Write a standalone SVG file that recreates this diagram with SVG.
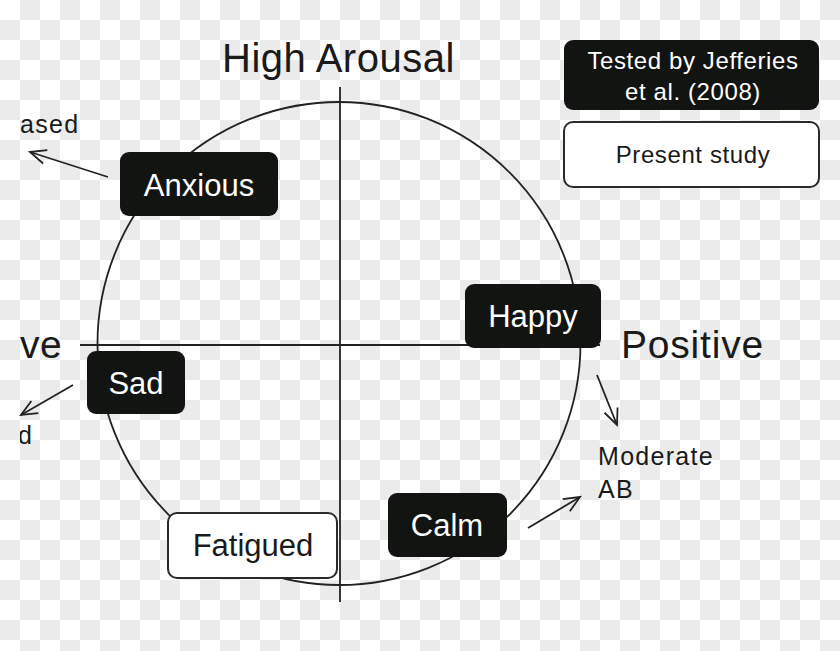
<svg xmlns="http://www.w3.org/2000/svg" width="840" height="651" viewBox="0 0 840 651">
<defs>
<pattern id="chk" x="0" y="0" width="40" height="40" patternUnits="userSpaceOnUse">
<rect width="40" height="40" fill="#ffffff"/>
<rect x="20" y="0" width="20" height="20" fill="#ebebeb"/>
<rect x="0" y="20" width="20" height="20" fill="#ebebeb"/>
</pattern>
<marker id="arr" markerWidth="20" markerHeight="20" refX="17" refY="10" orient="auto" markerUnits="userSpaceOnUse">
<path d="M1,3 L17,10 L1,17" fill="none" stroke="#222" stroke-width="1.8"/>
</marker>
<clipPath id="clipL"><rect x="20" y="0" width="820" height="651"/></clipPath>
</defs>
<style>
text{font-family:"Liberation Sans",Arial,sans-serif;}
.dark rect{fill:#121412;}
.dark text{fill:#ffffff;font-size:31px;text-anchor:middle;}
.light rect{fill:#ffffff;stroke:#2a2a2a;stroke-width:2;}
.light text{fill:#1a1a1a;font-size:31px;text-anchor:middle;}
.leg text{font-size:24px;letter-spacing:0.6px;text-anchor:middle;}
.axis{fill:#1a1a1a;font-size:40px;letter-spacing:0.5px;}
.note{fill:#1a1a1a;font-size:25px;letter-spacing:1.3px;}
.ln{stroke:#222;stroke-width:1.8;fill:none;}
</style>
<rect width="840" height="651" fill="url(#chk)"/>

<g id="axes">
<circle class="ln" cx="339" cy="343.5" r="241.5"/>
<line class="ln" x1="340" y1="87" x2="340" y2="602"/>
<line class="ln" x1="80" y1="345" x2="600" y2="345"/>
</g>

<g id="labels" clip-path="url(#clipL)">
<text class="axis" x="222" y="72">High Arousal</text>
<text class="axis" x="621" y="358" style="letter-spacing:0.8px;font-size:39px">Positive</text>
<text class="axis" x="20" y="358" style="font-size:39px">ve</text>
<text class="note" x="20" y="133">ased</text>
<text class="note" x="18" y="444">d</text>
<text class="note" x="598" y="465">Moderate</text>
<text class="note" x="598" y="498">AB</text>
</g>

<g id="connectors">
<line class="ln" x1="108" y1="177" x2="30" y2="152" marker-end="url(#arr)"/>
<line class="ln" x1="73" y1="385" x2="21" y2="415" marker-end="url(#arr)"/>
<line class="ln" x1="597" y1="375" x2="617" y2="425" marker-end="url(#arr)"/>
<line class="ln" x1="528" y1="528" x2="580" y2="497" marker-end="url(#arr)"/>
</g>

<g id="node-anxious" class="dark">
<rect x="120" y="152" width="158" height="64" rx="9"/>
<text x="199" y="196">Anxious</text>
</g>
<g id="node-sad" class="dark">
<rect x="87" y="351" width="98" height="63" rx="9"/>
<text x="136" y="394">Sad</text>
</g>
<g id="node-happy" class="dark">
<rect x="465" y="284" width="136" height="64" rx="9"/>
<text x="533" y="327">Happy</text>
</g>
<g id="node-calm" class="dark">
<rect x="388" y="493" width="119" height="64" rx="9"/>
<text x="447" y="536">Calm</text>
</g>
<g id="node-fatigued" class="light">
<rect x="168" y="513" width="169" height="65" rx="9"/>
<text x="253" y="556">Fatigued</text>
</g>

<g id="legend-tested" class="dark leg">
<rect x="564" y="40" width="255" height="70" rx="9"/>
<text x="693" y="69" style="font-size:24px">Tested by Jefferies</text>
<text x="693" y="100" style="font-size:24px">et al. (2008)</text>
</g>
<g id="legend-present" class="light leg">
<rect x="564" y="122" width="255" height="65" rx="9"/>
<text x="693" y="163" style="font-size:24px">Present study</text>
</g>
</svg>
